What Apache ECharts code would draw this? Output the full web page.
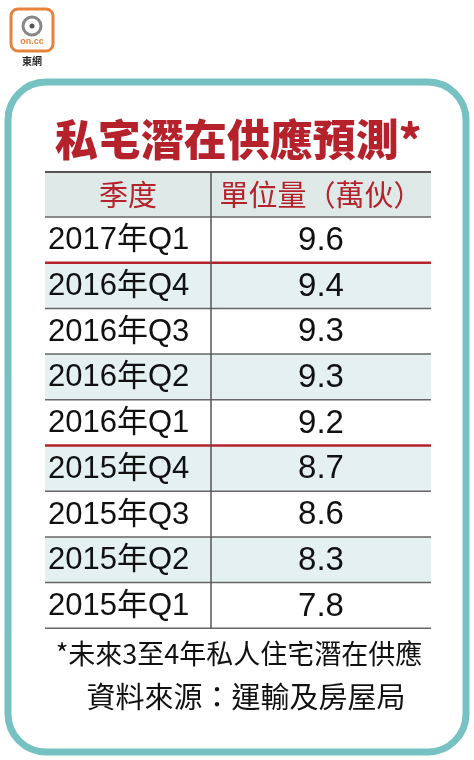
<!DOCTYPE html>
<html><head><meta charset="utf-8">
<script src="https://cdn.jsdelivr.net/npm/echarts@6/dist/echarts.min.js"></script>
<style>html,body{margin:0;padding:0;background:#fff}#c{width:474px;height:760px}</style>
</head><body><div id="c"></div>
<script>
// 季度 / 單位量（萬伙）
var quarters = ['2017年Q1','2016年Q4','2016年Q3','2016年Q2','2016年Q1','2015年Q4','2015年Q3','2015年Q2','2015年Q1'];
var units = [9.6, 9.4, 9.3, 9.3, 9.2, 8.7, 8.6, 8.3, 7.8];
var headers = ['季度', '單位量（萬伙）'];
var title = '私宅潛在供應預測*';
var note = '*未來3至4年私人住宅潛在供應';
var source = '資料來源：運輸及房屋局';

var chart = echarts.init(document.getElementById('c'));
var font = '"Liberation Sans", "Noto Sans CJK TC", sans-serif';
var L = 45, R = 431, mid = 211, top0 = 172, headH = 45, rowH = 45.7;
var g = [];

// logo
g.push({type:'rect', shape:{x:11,y:9,width:42,height:42,r:7}, style:{fill:'#fff',stroke:'#e8823a',lineWidth:3}});
g.push({type:'circle', shape:{cx:32,cy:26,r:9}, style:{fill:'#fff',stroke:'#888',lineWidth:3}});
g.push({type:'circle', shape:{cx:32,cy:26,r:2.5}, style:{fill:'#555'}});
g.push({type:'text', style:{x:32,y:42,text:'on.cc',fill:'#e8823a',font:'bold 9px "Liberation Sans"',align:'center',verticalAlign:'middle'}});
g.push({type:'text', style:{x:32,y:61,text:'東網',fill:'#222',font:'bold 10px "Noto Sans CJK TC"',align:'center',verticalAlign:'middle'}});

// frame
g.push({type:'rect', shape:{x:8,y:82,width:458,height:670,r:38}, style:{fill:'#fff',stroke:'#76c1c1',lineWidth:7}});

g.push({type:'text', style:{x:238,y:140,text:title,fill:'#b5222b',font:'900 43px "Noto Sans CJK TC"',align:'center',verticalAlign:'middle'}});

// header
g.push({type:'rect', shape:{x:L,y:top0,width:R-L,height:headH}, style:{fill:'#dfe9e7'}});
g.push({type:'text', style:{x:(L+mid)/2,y:top0+headH/2,text:headers[0],fill:'#b5222b',font:'29px "Noto Sans CJK TC"',align:'center',verticalAlign:'middle'}});
g.push({type:'text', style:{x:(mid+R)/2,y:top0+headH/2,text:headers[1],fill:'#b5222b',font:'29px "Noto Sans CJK TC"',align:'center',verticalAlign:'middle'}});
g.push({type:'line', shape:{x1:L,y1:top0,x2:R,y2:top0}, style:{stroke:'#555',lineWidth:2}});

var bodyTop = top0 + headH;
quarters.forEach(function (q, i) {
  var y = bodyTop + i * rowH;
  if (i % 2 === 1) g.push({type:'rect', shape:{x:L,y:y,width:R-L,height:rowH}, style:{fill:'#e5f0f0'}});
  g.push({type:'text', style:{x:L+3,y:y+rowH/2+1,text:q,fill:'#111',font:'31px '+font,align:'left',verticalAlign:'middle'}});
  g.push({type:'text', style:{x:(mid+R)/2,y:y+rowH/2+1,text:units[i].toFixed(1),fill:'#111',font:'33px '+font,align:'center',verticalAlign:'middle'}});
});
// separators: red between years
for (var i = 0; i <= quarters.length; i++) {
  var y = bodyTop + i * rowH;
  var yearChange = i > 0 && i < quarters.length && quarters[i].slice(0,4) !== quarters[i-1].slice(0,4);
  g.push({type:'line', z:5, shape:{x1:L,y1:y,x2:R,y2:y}, style:{stroke:yearChange?'#b5222b':'#666',lineWidth:yearChange?2.5:1.5}});
}
g.push({type:'line', z:5, shape:{x1:mid,y1:top0,x2:mid,y2:bodyTop+quarters.length*rowH}, style:{stroke:'#555',lineWidth:1.5}});

g.push({type:'text', style:{x:239,y:654,text:note,fill:'#111',font:'27px "Noto Sans CJK TC"',align:'center',verticalAlign:'middle'}});
g.push({type:'text', style:{x:246,y:697,text:source,fill:'#111',font:'29px "Noto Sans CJK TC"',align:'center',verticalAlign:'middle'}});

chart.setOption({animation:false, graphic:{elements:g}});
</script></body></html>
